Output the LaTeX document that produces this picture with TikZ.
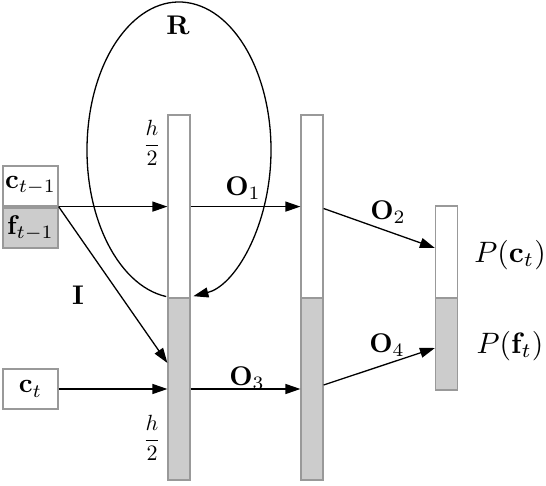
\documentclass[tikz,border=0pt]{standalone}
\usepackage{graphicx}
\usetikzlibrary{arrows.meta,calc}
\definecolor{barfill}{HTML}{CCCCCC}
\definecolor{barline}{HTML}{999999}
\newcommand{\Sc}[1]{\scalebox{2.7}{#1}}
\newcommand{\ScP}[1]{\scalebox{2.95}{#1}}
\newcommand{\ScH}[1]{\scalebox{2.2}{#1}}
\begin{document}
\begin{tikzpicture}[x=1pt,y=1pt,
  inbox/.style={draw=barline, line width=1.2pt, minimum width=55pt, minimum height=40pt, inner sep=0pt},
  bar/.style={draw=barline, line width=1.2pt, minimum width=22pt, inner sep=0pt},
  gbar/.style={bar, fill=barfill},
  conn/.style={line width=1.3pt, -{Triangle[length=15pt,width=10pt]}},
  lbl/.style={inner sep=0pt}
]
\useasboundingbox (0,0) rectangle (546,485);
% loop R
\draw[conn] (179,335) ++(262:92 and 148) arc[start angle=262, end angle=-81, x radius=92, y radius=148];
% input boxes
\node[inbox] (ct1) at (30.5,299) {\Sc{$\mathbf{c}_{t-1}$}};
\node[inbox, fill=barfill] (ft1) at (30.5,257) {\Sc{$\mathbf{f}_{t-1}$}};
\node[inbox] (ct) at (30.5,96) {\Sc{$\mathbf{c}_{t}$}};
% bars
\node[bar, minimum height=183pt] (b1t) at (179,278.5) {};
\node[gbar, minimum height=182pt] (b1b) at (179,96) {};
\node[bar, minimum height=183pt] (b2t) at (312,278.5) {};
\node[gbar, minimum height=182pt] (b2b) at (312,96) {};
\node[bar, minimum height=92pt] (b3t) at (446.5,233) {};
\node[gbar, minimum height=92pt] (b3b) at (446.5,141) {};
% connectors
\draw[conn] (ct1.south east) -- (ct1.south east -| b1t.west);
\coordinate (o1s) at (b1t.east |- ct1.south east);
\draw[conn] (o1s) -- (o1s -| b2t.west);
\coordinate (ie) at ($(b1b.west)+(0,26)$);
\draw[conn] (ct1.south east) -- (ie);
\draw[conn] (ct.east) -- (ct.east -| b1b.west);
\coordinate (o3s) at (b1b.east |- ct.east);
\draw[conn] (o3s) -- (o3s -| b2b.west);
\coordinate (o2s) at ($(b2t.east)+(0,-2)$);
\coordinate (o2e) at ($(b3t.west)+(0,4)$);
\draw[conn] (o2s) -- (o2e);
\coordinate (o4s) at ($(b2b.east)+(0,4)$);
\coordinate (o4e) at ($(b3b.west)+(0,-4)$);
\draw[conn] (o4s) -- (o4e);
% labels
\node[lbl] (R) at (178,460) {\Sc{$\mathbf{R}$}};
\node[lbl] (I) at (78,190) {\Sc{$\mathbf{I}$}};
\node[lbl] (O1) at (243,297) {\Sc{$\mathbf{O}_1$}};
\node[lbl] (O2) at (388,273) {\Sc{$\mathbf{O}_2$}};
\node[lbl] (O3) at (247,107) {\Sc{$\mathbf{O}_3$}};
\node[lbl] (O4) at (387,140) {\Sc{$\mathbf{O}_4$}};
\node[lbl] (h1) at (152,342) {\ScH{$\displaystyle\frac{h}{2}$}};
\node[lbl] (h2) at (152,47) {\ScH{$\displaystyle\frac{h}{2}$}};
\node[lbl] (Pc) at (510,230) {\ScP{$P(\mathbf{c}_t)$}};
\node[lbl] (Pf) at (510,139) {\ScP{$P(\mathbf{f}_t)$}};
\end{tikzpicture}
\end{document}
